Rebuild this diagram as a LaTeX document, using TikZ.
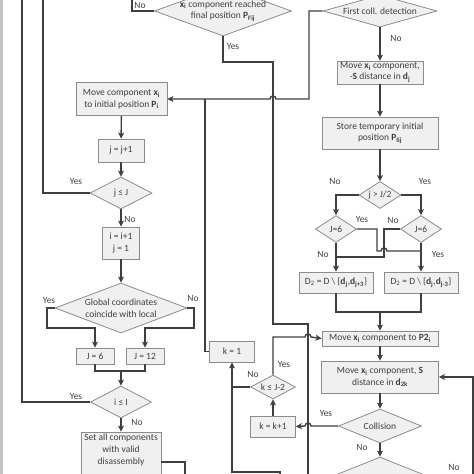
\documentclass[tikz,border=0pt]{standalone}
\usepackage{fontspec}
\setmainfont{Carlito}
\usetikzlibrary{shapes.geometric,arrows.meta}
\definecolor{linegray}{HTML}{3F3F3F}
\definecolor{boxgray}{HTML}{8C8C8C}
\definecolor{fillgray}{HTML}{F0F0F0}
\definecolor{textgray}{HTML}{404040}
\definecolor{stripgray}{HTML}{C4C4C4}
\begin{document}
\begin{tikzpicture}[x=1pt,y=-1pt,
	font=\fontsize{9.5}{11.5}\selectfont,
	box/.style={draw=boxgray,fill=fillgray,line width=.8pt,inner sep=1pt,align=center,text=textgray},
	decision/.style={diamond,draw=boxgray,fill=fillgray,line width=.8pt,inner sep=0pt,align=center,text=textgray},
	conn/.style={draw=linegray,line width=1.4pt},
	arr/.style={conn,-{Stealth[length=6pt,width=6pt,inset=1.5pt]}},
	lbl/.style={text=textgray,inner sep=0pt}]
	\useasboundingbox (0,0) rectangle (474,474);
	\clip (0,0) rectangle (474,474);
	\fill[stripgray] (0,0) rectangle (2.5,474);

	% right column
	\node[decision,minimum width=137pt,minimum height=50pt,aspect=2.74,inner sep=-1.5pt] (reach) at (223,11) {\textbf{x\textsubscript{i}} component reached\\final position \textbf{P\textsubscript{Fij}}};
	\node[decision,minimum width=114pt,minimum height=32pt,aspect=3.56] (first) at (380,11) {First coll. detection};
	\node[box,minimum width=86pt,minimum height=23pt] (moveneg) at (380,72.5) {Move \textbf{x\textsubscript{i}} component,\\-\textbf{S} distance in \textbf{d\textsubscript{j}}};
	\node[box,minimum width=116pt,minimum height=32pt] (store) at (380,133) {Store temporary initial\\position \textbf{P\textsubscript{Iij}}};
	\node[decision,minimum width=42pt,minimum height=27pt,aspect=1.55] (jhalf) at (380,195) {j > J/2};
	\node[decision,minimum width=41pt,minimum height=27pt,aspect=1.52] (J6L) at (336,229) {J=6};
	\node[decision,minimum width=41pt,minimum height=27pt,aspect=1.52] (J6R) at (421,229) {J=6};
	\node[box,minimum width=74pt,minimum height=21pt] (D2L) at (336,282.5) {D\textsubscript{2} = D \textbackslash\ \{\textbf{d\textsubscript{j}},\textbf{d\textsubscript{j+3}}\}};
	\node[box,minimum width=74pt,minimum height=21pt] (D2R) at (421,282.5) {D\textsubscript{2} = D \textbackslash\ \{\textbf{d\textsubscript{j}},\textbf{d\textsubscript{j-3}}\}};
	\coordinate (d2join) at (380,312);
	\node[box,minimum width=116pt,minimum height=15pt] (P2) at (380,338.5) {Move \textbf{x\textsubscript{i}} component to \textbf{P2\textsubscript{i}}};
	\node[box,minimum width=117pt,minimum height=32pt] (moveS) at (380,377) {Move \textbf{x\textsubscript{i}} component, \textbf{S}\\distance in \textbf{d\textsubscript{2k}}};
	\node[decision,minimum width=83pt,minimum height=34pt,aspect=2.44] (coll) at (380,426) {Collision};
	\node[decision,minimum width=164pt,minimum height=66pt,aspect=2.48] (bot) at (380,490) {};

	% k loop
	\node[box,minimum width=45pt,minimum height=21pt] (k1) at (232,351.5) {k = 1};
	\node[decision,minimum width=45pt,minimum height=24pt,aspect=1.875] (kle) at (273,387) {k ≤ J-2};
	\node[box,minimum width=45pt,minimum height=21pt] (kinc) at (273,426.5) {k = k+1};

	% left column
	\node[box,minimum width=91pt,minimum height=33pt] (movei) at (121.5,99) {Move component \textbf{x\textsubscript{i}}\\to initial position \textbf{P\textsubscript{i}}};
	\node[box,minimum width=46pt,minimum height=23pt] (jinc) at (121,150.5) {j = j+1};
	\node[decision,minimum width=62pt,minimum height=32pt,aspect=1.94] (jle) at (121,193) {j ≤ J};
	\node[box,minimum width=37pt,minimum height=32pt] (iinc) at (121,243) {i = i+1\\j = 1};
	\node[decision,minimum width=132pt,minimum height=50pt,aspect=2.64] (glob) at (121,308) {Global coordinates\\coincide with local};
	\node[box,minimum width=38pt,minimum height=16pt] (J6) at (95,356) {J = 6};
	\node[box,minimum width=38pt,minimum height=16pt] (J12) at (145,356) {J = 12};
	\coordinate (jjoin) at (121,371);
	\node[decision,minimum width=61pt,minimum height=32pt,aspect=1.9] (ile) at (121,402) {i ≤ I};
	\node[box,minimum width=80pt,minimum height=60pt] (setall) at (121,462) {};
	\node[lbl,anchor=north,align=center,font=\fontsize{9.5}{12}\selectfont] (settxt) at (121,434) {Set all components\\with valid\\disassembly};

	% connectors
	\draw[conn] (reach.west) -- (132,11) -- (132,-5);
	\draw[conn] (reach.south) |- (273,62) -- (273,324) -| (308,480);
	\draw[arr] (first.west) -| (309,99) -- (276,99) .. controls (276,95) and (270,95) .. (270,99) -- (movei.east);
	\draw[arr] (first.south) -- (moveneg.north);
	\draw[arr] (moveneg) -- (store);
	\draw[arr] (store) -- (jhalf);
	\draw[arr] (jhalf.west) -| (J6L.north);
	\draw[arr] (jhalf.east) -| (J6R.north);
	\draw[conn] (J6L.east) -| (377,251) -- (381,251) .. controls (381,247) and (387,247) .. (387,251) -- (421,251);
	\draw[conn] (J6R.west) -| (384,257) -- (336,257);
	\draw[arr] (J6L.south) -- (D2L.north);
	\draw[arr] (J6R.south) -- (D2R.north);
	\draw[conn] (D2L.south) |- (d2join);
	\draw[conn] (D2R.south) |- (d2join);
	\draw[arr] (d2join) -- (P2.north);
	\draw[arr] (P2) -- (moveS);
	\draw[arr] (moveS) -- (coll);
	\draw[arr] (coll.south) -- (bot.north);
	\draw[arr] (bot.east) -| (473,377) -- (moveS.east);
	\draw[arr] (coll.west) -- (311,426) .. controls (311,422) and (305,422) .. (305,426) -- (kinc.east);
	\draw[arr] (kinc) -- (kle);
	\draw[arr] (kle.north) |- (305,337) .. controls (305,333) and (311,333) .. (311,337) -- (P2.west);
	\draw[conn] (kle.west) -- (232,387);
	\draw[arr] (280,480) |- (232,472) -- (k1.south);
	\draw[conn] (k1.west) -| (205,99);

	\draw[arr] (movei) -- (jinc);
	\draw[arr] (jinc) -- (jle);
	\draw[conn] (jle.west) -| (43,-5);
	\draw[arr] (jle) -- (iinc);
	\draw[arr] (iinc) -- (glob);
	\draw[arr] (glob.west) -- (47,308) |- (95,328) -- (J6.north);
	\draw[arr] (glob.east) -- (194,308) |- (145,328) -- (J12.north);
	\draw[conn] (J6.south) |- (jjoin);
	\draw[conn] (J12.south) |- (jjoin);
	\draw[arr] (jjoin) -- (ile.north);
	\draw[conn] (ile.west) -| (22,-5);
	\draw[arr] (ile) -- (setall);
	\draw[conn] (setall.east) -| (185,480);

	% yes / no labels
	\foreach \x/\y/\txt [count=\n] in {140/5/No, 233/46/Yes, 396/38/No,
							335/181/No, 425/181/Yes, 362/219/Yes, 393/220/No,
							323/254/No, 438/254/Yes, 76/181/Yes, 130/219/No,
							49/300/Yes, 193/298/No, 76/396/Yes, 137/422/No,
							284/364/Yes, 253/374/No, 326/413/Yes, 362/447/No,
							454/467/No}
		\node[lbl] (lbl\n) at (\x,\y) {\txt};
\end{tikzpicture}
\end{document}
